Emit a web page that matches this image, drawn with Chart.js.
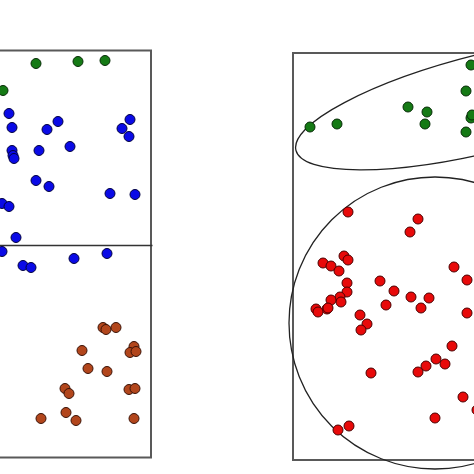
<!DOCTYPE html>
<html>
<head>
<meta charset="utf-8">
<script src="https://cdn.jsdelivr.net/npm/chart.js@4.4.1/dist/chart.umd.min.js"></script>
<style>
  html, body { margin: 0; padding: 0; width: 474px; height: 474px; overflow: hidden; background: #fff; }
  #leftChart { position: absolute; left: -60px; top: 0; }
  #rightChart { position: absolute; left: 280px; top: 0; }
</style>
</head>
<body>
<canvas id="leftChart" width="213" height="474"></canvas>
<canvas id="rightChart" width="225" height="474"></canvas>
<script>
// left panel
const leftGreenX = [9.5, 13.7, 16.4, 6.2];
const leftGreenY = [39.4, 39.6, 39.7, 36.7];
const leftBlueX = [6.8, 7.1, 11.7, 10.6, 18.9, 18.1, 18.8, 7.1, 7.2, 7.3, 9.8, 12.9, 9.5, 10.8, 16.9, 19.4, 6.1, 6.8, 7.5, 6.1, 8.2, 9.0, 13.3, 16.6];
const leftBlueY = [34.4, 33.0, 33.6, 32.8, 33.8, 32.9, 32.1, 30.7, 30.2, 29.9, 30.7, 31.1, 27.7, 27.1, 26.4, 26.3, 25.4, 25.1, 22.0, 20.6, 19.2, 19.0, 19.9, 20.4];
const leftBrownX = [16.2, 16.5, 17.5, 14.1, 19.3, 18.9, 19.5, 14.7, 16.6, 12.4, 12.8, 18.8, 19.4, 10.0, 12.5, 13.5, 19.3];
const leftBrownY = [13.0, 12.8, 13.0, 10.7, 11.1, 10.5, 10.6, 8.9, 8.6, 6.9, 6.4, 6.8, 6.9, 3.9, 4.5, 3.7, 3.9];
const splitY = 21.2;

// right panel
const rightGreenX = [1.7, 4.4, 11.5, 13.4, 13.2, 17.8, 17.3, 17.8, 17.9, 17.3];
const rightGreenY = [33.3, 33.6, 35.3, 34.8, 33.6, 39.5, 36.9, 34.2, 34.5, 32.8];
const rightRedX = [5.5, 12.5, 11.7, 5.1, 5.5, 3.0, 3.8, 4.6, 5.4, 5.4, 4.7, 4.8, 3.8, 3.4, 2.3, 2.5, 3.5,
  8.7, 10.1, 9.3, 11.8, 13.6, 12.8, 16.1, 17.4, 17.4, 6.7, 7.4, 6.8, 15.9, 14.3, 13.3, 12.5, 15.2, 7.8, 17.0, 14.2, 4.5, 5.6, 18.4];
const rightRedY = [24.8, 24.1, 22.8, 20.4, 20.0, 19.7, 19.4, 18.9, 17.7, 16.8, 16.3, 15.8, 16.0, 15.1, 15.1, 14.8, 15.2,
  17.9, 16.9, 15.5, 16.3, 16.2, 15.2, 19.3, 18.0, 14.7, 14.5, 13.6, 13.0, 11.4, 10.1, 9.4, 8.8, 9.6, 8.7, 6.3, 4.2, 3.0, 3.4, 5.0];

// cluster outlines (data units)
const ellipseCenter = [19.7, 35.8];
const ellipseAxes = [20, 4.9];
const ellipseAngle = 14; // degrees
const circleCenter = [14.2, 13.7];
const circleRadius = 14.6;

const X_MAX = 21;
const Y_MAX = 40.7;

function pts(xs, ys) {
  return xs.map((x, i) => ({ x: x, y: ys[i] }));
}

function dots(xs, ys, fill, edge) {
  return {
    type: "scatter",
    data: pts(xs, ys),
    backgroundColor: fill,
    borderColor: edge,
    borderWidth: 1,
    pointRadius: 5,
    pointHoverRadius: 5,
    order: 1,
  };
}

const framePlugin = {
  id: "frame",
  beforeDatasetsDraw(chart) {
    const { ctx, chartArea } = chart;
    ctx.save();
    ctx.strokeStyle = "#595959";
    ctx.lineWidth = 2;
    ctx.strokeRect(chartArea.left, chartArea.top, chartArea.right - chartArea.left, chartArea.bottom - chartArea.top);
    ctx.restore();
  },
};

const outlinePlugin = {
  id: "outlines",
  beforeDatasetsDraw(chart) {
    const { ctx } = chart;
    const xs = chart.scales.x;
    const ys = chart.scales.y;
    const pxPerX = xs.getPixelForValue(1) - xs.getPixelForValue(0);
    const pxPerY = ys.getPixelForValue(0) - ys.getPixelForValue(1);
    ctx.save();
    ctx.strokeStyle = "#222";
    ctx.lineWidth = 1.3;
    ctx.beginPath();
    ctx.ellipse(
      xs.getPixelForValue(ellipseCenter[0]),
      ys.getPixelForValue(ellipseCenter[1]),
      ellipseAxes[0] * pxPerX,
      ellipseAxes[1] * pxPerY,
      -ellipseAngle * Math.PI / 180,
      0, Math.PI * 2
    );
    ctx.stroke();
    ctx.beginPath();
    ctx.ellipse(
      xs.getPixelForValue(circleCenter[0]),
      ys.getPixelForValue(circleCenter[1]),
      circleRadius * pxPerX,
      circleRadius * pxPerY,
      0, 0, Math.PI * 2
    );
    ctx.stroke();
    ctx.restore();
  },
};

const hiddenScales = {
  x: { type: "linear", min: 0, max: X_MAX, display: false },
  y: { type: "linear", min: 0, max: Y_MAX, display: false },
};

const commonOptions = (padding) => ({
  responsive: false,
  animation: false,
  events: [],
  layout: { padding: padding, autoPadding: false },
  scales: hiddenScales,
  plugins: { legend: { display: false }, tooltip: { enabled: false } },
});

new Chart(document.getElementById("leftChart"), {
  type: "scatter",
  data: {
    datasets: [
      {
        type: "line",
        data: [{ x: 0, y: splitY }, { x: X_MAX + 0.15, y: splitY }],
        borderColor: "#333",
        borderWidth: 1.5,
        pointRadius: 0,
        clip: false,
        order: 2,
      },
      dots(leftGreenX, leftGreenY, "#157a15", "#062b06"),
      dots(leftBlueX, leftBlueY, "#0a0ae6", "#000040"),
      dots(leftBrownX, leftBrownY, "#b2461c", "#3a1206"),
    ],
  },
  options: commonOptions({ left: 1, right: 2, top: 50.5, bottom: 16.5 }),
  plugins: [framePlugin],
});

new Chart(document.getElementById("rightChart"), {
  type: "scatter",
  data: {
    datasets: [
      dots(rightGreenX, rightGreenY, "#157a15", "#062b06"),
      dots(rightRedX, rightRedY, "#e80a0a", "#4a0000"),
    ],
  },
  options: commonOptions({ left: 13, right: 2, top: 53, bottom: 14 }),
  plugins: [framePlugin, outlinePlugin],
});
</script>
</body>
</html>
